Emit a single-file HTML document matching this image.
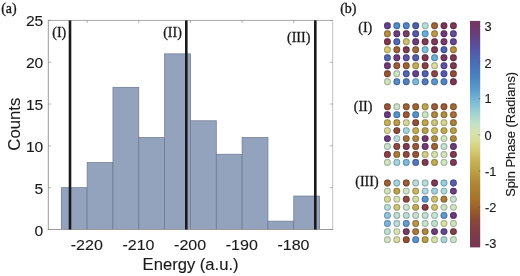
<!DOCTYPE html>
<html lang="en"><head><meta charset="utf-8"><title>Figure</title>
<style>html,body{margin:0;padding:0;background:#fff}svg{display:block;filter:blur(0.3px)}</style></head>
<body>
<svg width="520" height="276" viewBox="0 0 520 276">
<defs><linearGradient id="cb" x1="0" y1="0" x2="0" y2="1">
<stop offset="0.00%" stop-color="#763660"/>
<stop offset="3.13%" stop-color="#70386c"/>
<stop offset="6.23%" stop-color="#683e7e"/>
<stop offset="9.32%" stop-color="#5e4a94"/>
<stop offset="12.85%" stop-color="#5358a6"/>
<stop offset="18.59%" stop-color="#4a6cb6"/>
<stop offset="24.33%" stop-color="#4a82c0"/>
<stop offset="30.51%" stop-color="#5c9ccc"/>
<stop offset="34.48%" stop-color="#74b4d4"/>
<stop offset="40.22%" stop-color="#9cd0d4"/>
<stop offset="45.08%" stop-color="#c0e0c8"/>
<stop offset="49.49%" stop-color="#d6e2ae"/>
<stop offset="53.02%" stop-color="#d8dc98"/>
<stop offset="56.11%" stop-color="#d6d07c"/>
<stop offset="61.41%" stop-color="#c8b458"/>
<stop offset="66.27%" stop-color="#bca044"/>
<stop offset="72.45%" stop-color="#ac8436"/>
<stop offset="78.19%" stop-color="#a8742a"/>
<stop offset="82.16%" stop-color="#9e622a"/>
<stop offset="87.90%" stop-color="#8a4838"/>
<stop offset="93.64%" stop-color="#7e3c48"/>
<stop offset="100.00%" stop-color="#763858"/>
</linearGradient>
<radialGradient id="sh" cx="0.5" cy="0.5" r="0.5"><stop offset="0" stop-color="#fff" stop-opacity="0.10"/><stop offset="0.45" stop-color="#fff" stop-opacity="0"/><stop offset="0.75" stop-color="#101030" stop-opacity="0.16"/><stop offset="1" stop-color="#101030" stop-opacity="0.30"/></radialGradient>
</defs>
<rect width="520" height="276" fill="#fff"/>
<g fill="#93a3be" stroke="#68778f" stroke-width="0.7">
<rect x="61.30" y="187.68" width="25.83" height="41.82"/>
<rect x="87.13" y="162.59" width="25.83" height="66.91"/>
<rect x="112.96" y="87.31" width="25.83" height="142.19"/>
<rect x="138.79" y="137.50" width="25.83" height="92.00"/>
<rect x="164.62" y="53.86" width="25.83" height="175.64"/>
<rect x="190.45" y="120.77" width="25.83" height="108.73"/>
<rect x="216.28" y="154.22" width="25.83" height="75.28"/>
<rect x="242.11" y="137.50" width="25.83" height="92.00"/>
<rect x="267.94" y="221.14" width="25.83" height="8.36"/>
<rect x="293.77" y="196.04" width="25.83" height="33.46"/>
</g>
<line x1="48.3" y1="20.4" x2="332.7" y2="20.4" stroke="#a8a8a8" stroke-width="1"/>
<line x1="332.7" y1="20.4" x2="332.7" y2="229.5" stroke="#c0c0c0" stroke-width="1"/>
<line x1="48.3" y1="19.9" x2="48.3" y2="230.0" stroke="#999" stroke-width="1"/>
<line x1="47.8" y1="229.5" x2="333.2" y2="229.5" stroke="#999" stroke-width="1"/>
<g stroke="#8a8a8a" stroke-width="0.7">
<line x1="87.13" y1="229.5" x2="87.13" y2="227.0"/>
<line x1="87.13" y1="20.4" x2="87.13" y2="22.9"/>
<line x1="138.79" y1="229.5" x2="138.79" y2="227.0"/>
<line x1="138.79" y1="20.4" x2="138.79" y2="22.9"/>
<line x1="190.45" y1="229.5" x2="190.45" y2="227.0"/>
<line x1="190.45" y1="20.4" x2="190.45" y2="22.9"/>
<line x1="242.11" y1="229.5" x2="242.11" y2="227.0"/>
<line x1="242.11" y1="20.4" x2="242.11" y2="22.9"/>
<line x1="293.77" y1="229.5" x2="293.77" y2="227.0"/>
<line x1="293.77" y1="20.4" x2="293.77" y2="22.9"/>
<line x1="48.3" y1="229.50" x2="50.8" y2="229.50"/>
<line x1="332.7" y1="229.50" x2="330.2" y2="229.50"/>
<line x1="48.3" y1="187.68" x2="50.8" y2="187.68"/>
<line x1="332.7" y1="187.68" x2="330.2" y2="187.68"/>
<line x1="48.3" y1="145.86" x2="50.8" y2="145.86"/>
<line x1="332.7" y1="145.86" x2="330.2" y2="145.86"/>
<line x1="48.3" y1="104.04" x2="50.8" y2="104.04"/>
<line x1="332.7" y1="104.04" x2="330.2" y2="104.04"/>
<line x1="48.3" y1="62.22" x2="50.8" y2="62.22"/>
<line x1="332.7" y1="62.22" x2="330.2" y2="62.22"/>
<line x1="48.3" y1="20.40" x2="50.8" y2="20.40"/>
<line x1="332.7" y1="20.40" x2="330.2" y2="20.40"/>
</g>
<line x1="70.0" y1="20.4" x2="70.0" y2="229.5" stroke="#1a1a1a" stroke-width="2.6"/>
<line x1="186.3" y1="20.4" x2="186.3" y2="229.5" stroke="#1a1a1a" stroke-width="2.6"/>
<line x1="315.3" y1="20.4" x2="315.3" y2="229.5" stroke="#1a1a1a" stroke-width="2.6"/>
<g font-family="'Liberation Sans', Arial, Helvetica, sans-serif" fill="#1a1a1a" stroke="#1a1a1a" stroke-width="0.12">
<g font-size="15.5" text-anchor="middle">
<text transform="translate(86.83,249.6) scale(1.035,1)">-220</text>
<text transform="translate(138.49,249.6) scale(1.035,1)">-210</text>
<text transform="translate(190.15,249.6) scale(1.035,1)">-200</text>
<text transform="translate(241.81,249.6) scale(1.035,1)">-190</text>
<text transform="translate(293.47,249.6) scale(1.035,1)">-180</text>
</g>
<g font-size="15.5" text-anchor="end">
<text transform="translate(43.3,235.55) scale(1.01,1)">0</text>
<text transform="translate(43.3,193.73) scale(1.01,1)">5</text>
<text transform="translate(43.3,151.91) scale(1.01,1)">10</text>
<text transform="translate(43.3,110.09) scale(1.01,1)">15</text>
<text transform="translate(43.3,68.27) scale(1.01,1)">20</text>
<text transform="translate(43.3,26.45) scale(1.01,1)">25</text>
</g>
<text transform="translate(190.6,270.1) scale(1.045,1)" font-size="15.9" text-anchor="middle">Energy (a.u.)</text>
<text transform="translate(20.4,124.2) rotate(-90) scale(1.03,1)" font-size="16.2" text-anchor="middle">Counts</text>
<g font-size="12.2">
<text transform="translate(484.5,30.79) scale(1.05,1)">3</text>
<text transform="translate(484.5,67.86) scale(1.05,1)">2</text>
<text transform="translate(484.5,103.13) scale(1.05,1)">1</text>
<text transform="translate(484.5,139.80) scale(1.05,1)">0</text>
<text transform="translate(485.0,176.27) scale(1.05,1)">-1</text>
<text transform="translate(485.0,211.64) scale(1.05,1)">-2</text>
<text transform="translate(485.0,247.96) scale(1.05,1)">-3</text>
</g>
<text transform="translate(515.0,134.35) rotate(-90) scale(1.013,1)" font-size="12.7" text-anchor="middle">Spin Phase (Radians)</text>
</g>
<g font-family="'Liberation Serif', 'Times New Roman', Times, serif" font-size="14" fill="#1a1a1a" stroke="#1a1a1a" stroke-width="0.3">
<text x="1.2" y="13.2">(a)</text>
<text x="340.2" y="12.5">(b)</text>
<text x="52.3" y="37.4">(I)</text>
<text x="163.2" y="36.8">(II)</text>
<text x="287" y="41.7">(III)</text>
<text x="358.3" y="31.7">(I)</text>
<text x="353.8" y="110.6">(II)</text>
<text x="355.3" y="186.3">(III)</text>
</g>
<rect x="470" y="20.9" width="10.2" height="226.5" fill="url(#cb)"/>
<g stroke="#555" stroke-width="0.5">
<line x1="478.4" y1="26.39" x2="480.2" y2="26.39"/>
<line x1="478.4" y1="62.56" x2="480.2" y2="62.56"/>
<line x1="478.4" y1="98.73" x2="480.2" y2="98.73"/>
<line x1="478.4" y1="134.90" x2="480.2" y2="134.90"/>
<line x1="478.4" y1="171.07" x2="480.2" y2="171.07"/>
<line x1="478.4" y1="207.24" x2="480.2" y2="207.24"/>
<line x1="478.4" y1="243.41" x2="480.2" y2="243.41"/>
</g>
<circle cx="387.40" cy="25.75" r="3.4" fill="#5f3a85"/>
<circle cx="387.40" cy="25.75" r="3.4" fill="url(#sh)"/>
<circle cx="396.83" cy="25.75" r="3.4" fill="#4f86c6"/>
<circle cx="396.83" cy="25.75" r="3.4" fill="url(#sh)"/>
<circle cx="406.26" cy="25.75" r="3.4" fill="#4a84c4"/>
<circle cx="406.26" cy="25.75" r="3.4" fill="url(#sh)"/>
<circle cx="415.69" cy="25.75" r="3.4" fill="#4a5aa8"/>
<circle cx="415.69" cy="25.75" r="3.4" fill="url(#sh)"/>
<circle cx="425.12" cy="25.75" r="3.4" fill="#b8e0d4"/>
<circle cx="425.12" cy="25.75" r="3.4" fill="url(#sh)"/>
<circle cx="434.55" cy="25.75" r="3.4" fill="#9a6030"/>
<circle cx="434.55" cy="25.75" r="3.4" fill="url(#sh)"/>
<circle cx="443.98" cy="25.75" r="3.4" fill="#78304c"/>
<circle cx="443.98" cy="25.75" r="3.4" fill="url(#sh)"/>
<circle cx="453.41" cy="25.75" r="3.4" fill="#7a3050"/>
<circle cx="453.41" cy="25.75" r="3.4" fill="url(#sh)"/>
<circle cx="387.40" cy="33.75" r="3.4" fill="#b08a38"/>
<circle cx="387.40" cy="33.75" r="3.4" fill="url(#sh)"/>
<circle cx="396.83" cy="33.75" r="3.4" fill="#663878"/>
<circle cx="396.83" cy="33.75" r="3.4" fill="url(#sh)"/>
<circle cx="406.26" cy="33.75" r="3.4" fill="#743860"/>
<circle cx="406.26" cy="33.75" r="3.4" fill="url(#sh)"/>
<circle cx="415.69" cy="33.75" r="3.4" fill="#4e54a4"/>
<circle cx="415.69" cy="33.75" r="3.4" fill="url(#sh)"/>
<circle cx="425.12" cy="33.75" r="3.4" fill="#64acd8"/>
<circle cx="425.12" cy="33.75" r="3.4" fill="url(#sh)"/>
<circle cx="434.55" cy="33.75" r="3.4" fill="#b89840"/>
<circle cx="434.55" cy="33.75" r="3.4" fill="url(#sh)"/>
<circle cx="443.98" cy="33.75" r="3.4" fill="#6c3470"/>
<circle cx="443.98" cy="33.75" r="3.4" fill="url(#sh)"/>
<circle cx="453.41" cy="33.75" r="3.4" fill="#5c4494"/>
<circle cx="453.41" cy="33.75" r="3.4" fill="url(#sh)"/>
<circle cx="387.40" cy="41.75" r="3.4" fill="#7c3048"/>
<circle cx="387.40" cy="41.75" r="3.4" fill="url(#sh)"/>
<circle cx="396.83" cy="41.75" r="3.4" fill="#4a64b0"/>
<circle cx="396.83" cy="41.75" r="3.4" fill="url(#sh)"/>
<circle cx="406.26" cy="41.75" r="3.4" fill="#ccc064"/>
<circle cx="406.26" cy="41.75" r="3.4" fill="url(#sh)"/>
<circle cx="415.69" cy="41.75" r="3.4" fill="#6a3470"/>
<circle cx="415.69" cy="41.75" r="3.4" fill="url(#sh)"/>
<circle cx="425.12" cy="41.75" r="3.4" fill="#7c3448"/>
<circle cx="425.12" cy="41.75" r="3.4" fill="url(#sh)"/>
<circle cx="434.55" cy="41.75" r="3.4" fill="#783450"/>
<circle cx="434.55" cy="41.75" r="3.4" fill="url(#sh)"/>
<circle cx="443.98" cy="41.75" r="3.4" fill="#743460"/>
<circle cx="443.98" cy="41.75" r="3.4" fill="url(#sh)"/>
<circle cx="453.41" cy="41.75" r="3.4" fill="#5e4090"/>
<circle cx="453.41" cy="41.75" r="3.4" fill="url(#sh)"/>
<circle cx="387.40" cy="49.75" r="3.4" fill="#d4c868"/>
<circle cx="387.40" cy="49.75" r="3.4" fill="url(#sh)"/>
<circle cx="396.83" cy="49.75" r="3.4" fill="#9a5c30"/>
<circle cx="396.83" cy="49.75" r="3.4" fill="url(#sh)"/>
<circle cx="406.26" cy="49.75" r="3.4" fill="#7c3448"/>
<circle cx="406.26" cy="49.75" r="3.4" fill="url(#sh)"/>
<circle cx="415.69" cy="49.75" r="3.4" fill="#9c6430"/>
<circle cx="415.69" cy="49.75" r="3.4" fill="url(#sh)"/>
<circle cx="425.12" cy="49.75" r="3.4" fill="#78c0dc"/>
<circle cx="425.12" cy="49.75" r="3.4" fill="url(#sh)"/>
<circle cx="434.55" cy="49.75" r="3.4" fill="#78304c"/>
<circle cx="434.55" cy="49.75" r="3.4" fill="url(#sh)"/>
<circle cx="443.98" cy="49.75" r="3.4" fill="#4c60ac"/>
<circle cx="443.98" cy="49.75" r="3.4" fill="url(#sh)"/>
<circle cx="453.41" cy="49.75" r="3.4" fill="#b48a34"/>
<circle cx="453.41" cy="49.75" r="3.4" fill="url(#sh)"/>
<circle cx="387.40" cy="57.75" r="3.4" fill="#4c64b0"/>
<circle cx="387.40" cy="57.75" r="3.4" fill="url(#sh)"/>
<circle cx="396.83" cy="57.75" r="3.4" fill="#683674"/>
<circle cx="396.83" cy="57.75" r="3.4" fill="url(#sh)"/>
<circle cx="406.26" cy="57.75" r="3.4" fill="#5a4ca4"/>
<circle cx="406.26" cy="57.75" r="3.4" fill="url(#sh)"/>
<circle cx="415.69" cy="57.75" r="3.4" fill="#4e58a8"/>
<circle cx="415.69" cy="57.75" r="3.4" fill="url(#sh)"/>
<circle cx="425.12" cy="57.75" r="3.4" fill="#7c3048"/>
<circle cx="425.12" cy="57.75" r="3.4" fill="url(#sh)"/>
<circle cx="434.55" cy="57.75" r="3.4" fill="#64acd4"/>
<circle cx="434.55" cy="57.75" r="3.4" fill="url(#sh)"/>
<circle cx="443.98" cy="57.75" r="3.4" fill="#70345c"/>
<circle cx="443.98" cy="57.75" r="3.4" fill="url(#sh)"/>
<circle cx="453.41" cy="57.75" r="3.4" fill="#7a3048"/>
<circle cx="453.41" cy="57.75" r="3.4" fill="url(#sh)"/>
<circle cx="387.40" cy="65.75" r="3.4" fill="#6c3470"/>
<circle cx="387.40" cy="65.75" r="3.4" fill="url(#sh)"/>
<circle cx="396.83" cy="65.75" r="3.4" fill="#985830"/>
<circle cx="396.83" cy="65.75" r="3.4" fill="url(#sh)"/>
<circle cx="406.26" cy="65.75" r="3.4" fill="#a05c28"/>
<circle cx="406.26" cy="65.75" r="3.4" fill="url(#sh)"/>
<circle cx="415.69" cy="65.75" r="3.4" fill="#c4ac48"/>
<circle cx="415.69" cy="65.75" r="3.4" fill="url(#sh)"/>
<circle cx="425.12" cy="65.75" r="3.4" fill="#843c3c"/>
<circle cx="425.12" cy="65.75" r="3.4" fill="url(#sh)"/>
<circle cx="434.55" cy="65.75" r="3.4" fill="#d8dc9c"/>
<circle cx="434.55" cy="65.75" r="3.4" fill="url(#sh)"/>
<circle cx="443.98" cy="65.75" r="3.4" fill="#5a4ca0"/>
<circle cx="443.98" cy="65.75" r="3.4" fill="url(#sh)"/>
<circle cx="453.41" cy="65.75" r="3.4" fill="#7c3444"/>
<circle cx="453.41" cy="65.75" r="3.4" fill="url(#sh)"/>
<circle cx="387.40" cy="73.75" r="3.4" fill="#94502c"/>
<circle cx="387.40" cy="73.75" r="3.4" fill="url(#sh)"/>
<circle cx="396.83" cy="73.75" r="3.4" fill="#cce4c0"/>
<circle cx="396.83" cy="73.75" r="3.4" fill="url(#sh)"/>
<circle cx="406.26" cy="73.75" r="3.4" fill="#4c60b0"/>
<circle cx="406.26" cy="73.75" r="3.4" fill="url(#sh)"/>
<circle cx="415.69" cy="73.75" r="3.4" fill="#603c88"/>
<circle cx="415.69" cy="73.75" r="3.4" fill="url(#sh)"/>
<circle cx="425.12" cy="73.75" r="3.4" fill="#4c5cac"/>
<circle cx="425.12" cy="73.75" r="3.4" fill="url(#sh)"/>
<circle cx="434.55" cy="73.75" r="3.4" fill="#88403c"/>
<circle cx="434.55" cy="73.75" r="3.4" fill="url(#sh)"/>
<circle cx="443.98" cy="73.75" r="3.4" fill="#5054a8"/>
<circle cx="443.98" cy="73.75" r="3.4" fill="url(#sh)"/>
<circle cx="453.41" cy="73.75" r="3.4" fill="#8c4830"/>
<circle cx="453.41" cy="73.75" r="3.4" fill="url(#sh)"/>
<circle cx="387.40" cy="81.75" r="3.4" fill="#d0e4b8"/>
<circle cx="387.40" cy="81.75" r="3.4" fill="url(#sh)"/>
<circle cx="396.83" cy="81.75" r="3.4" fill="#5088c8"/>
<circle cx="396.83" cy="81.75" r="3.4" fill="url(#sh)"/>
<circle cx="406.26" cy="81.75" r="3.4" fill="#4c7cc0"/>
<circle cx="406.26" cy="81.75" r="3.4" fill="url(#sh)"/>
<circle cx="415.69" cy="81.75" r="3.4" fill="#74b8dc"/>
<circle cx="415.69" cy="81.75" r="3.4" fill="url(#sh)"/>
<circle cx="425.12" cy="81.75" r="3.4" fill="#4c78bc"/>
<circle cx="425.12" cy="81.75" r="3.4" fill="url(#sh)"/>
<circle cx="434.55" cy="81.75" r="3.4" fill="#5494cc"/>
<circle cx="434.55" cy="81.75" r="3.4" fill="url(#sh)"/>
<circle cx="443.98" cy="81.75" r="3.4" fill="#4c80c4"/>
<circle cx="443.98" cy="81.75" r="3.4" fill="url(#sh)"/>
<circle cx="453.41" cy="81.75" r="3.4" fill="#78304c"/>
<circle cx="453.41" cy="81.75" r="3.4" fill="url(#sh)"/>
<circle cx="387.40" cy="106.75" r="3.4" fill="#94502c"/>
<circle cx="387.40" cy="106.75" r="3.4" fill="url(#sh)"/>
<circle cx="396.83" cy="106.75" r="3.4" fill="#cce4c4"/>
<circle cx="396.83" cy="106.75" r="3.4" fill="url(#sh)"/>
<circle cx="406.26" cy="106.75" r="3.4" fill="#9c5c2c"/>
<circle cx="406.26" cy="106.75" r="3.4" fill="url(#sh)"/>
<circle cx="415.69" cy="106.75" r="3.4" fill="#9c602c"/>
<circle cx="415.69" cy="106.75" r="3.4" fill="url(#sh)"/>
<circle cx="425.12" cy="106.75" r="3.4" fill="#bca448"/>
<circle cx="425.12" cy="106.75" r="3.4" fill="url(#sh)"/>
<circle cx="434.55" cy="106.75" r="3.4" fill="#985830"/>
<circle cx="434.55" cy="106.75" r="3.4" fill="url(#sh)"/>
<circle cx="443.98" cy="106.75" r="3.4" fill="#985830"/>
<circle cx="443.98" cy="106.75" r="3.4" fill="url(#sh)"/>
<circle cx="453.41" cy="106.75" r="3.4" fill="#a0642c"/>
<circle cx="453.41" cy="106.75" r="3.4" fill="url(#sh)"/>
<circle cx="387.40" cy="114.70" r="3.4" fill="#643478"/>
<circle cx="387.40" cy="114.70" r="3.4" fill="url(#sh)"/>
<circle cx="396.83" cy="114.70" r="3.4" fill="#5090c8"/>
<circle cx="396.83" cy="114.70" r="3.4" fill="url(#sh)"/>
<circle cx="406.26" cy="114.70" r="3.4" fill="#94542c"/>
<circle cx="406.26" cy="114.70" r="3.4" fill="url(#sh)"/>
<circle cx="415.69" cy="114.70" r="3.4" fill="#5090cc"/>
<circle cx="415.69" cy="114.70" r="3.4" fill="url(#sh)"/>
<circle cx="425.12" cy="114.70" r="3.4" fill="#cce4c0"/>
<circle cx="425.12" cy="114.70" r="3.4" fill="url(#sh)"/>
<circle cx="434.55" cy="114.70" r="3.4" fill="#ac8438"/>
<circle cx="434.55" cy="114.70" r="3.4" fill="url(#sh)"/>
<circle cx="443.98" cy="114.70" r="3.4" fill="#b08c38"/>
<circle cx="443.98" cy="114.70" r="3.4" fill="url(#sh)"/>
<circle cx="453.41" cy="114.70" r="3.4" fill="#a06c30"/>
<circle cx="453.41" cy="114.70" r="3.4" fill="url(#sh)"/>
<circle cx="387.40" cy="122.65" r="3.4" fill="#c4b050"/>
<circle cx="387.40" cy="122.65" r="3.4" fill="url(#sh)"/>
<circle cx="396.83" cy="122.65" r="3.4" fill="#b89840"/>
<circle cx="396.83" cy="122.65" r="3.4" fill="url(#sh)"/>
<circle cx="406.26" cy="122.65" r="3.4" fill="#d4d890"/>
<circle cx="406.26" cy="122.65" r="3.4" fill="url(#sh)"/>
<circle cx="415.69" cy="122.65" r="3.4" fill="#904830"/>
<circle cx="415.69" cy="122.65" r="3.4" fill="url(#sh)"/>
<circle cx="425.12" cy="122.65" r="3.4" fill="#bca448"/>
<circle cx="425.12" cy="122.65" r="3.4" fill="url(#sh)"/>
<circle cx="434.55" cy="122.65" r="3.4" fill="#ccc470"/>
<circle cx="434.55" cy="122.65" r="3.4" fill="url(#sh)"/>
<circle cx="443.98" cy="122.65" r="3.4" fill="#d4d488"/>
<circle cx="443.98" cy="122.65" r="3.4" fill="url(#sh)"/>
<circle cx="453.41" cy="122.65" r="3.4" fill="#a87c34"/>
<circle cx="453.41" cy="122.65" r="3.4" fill="url(#sh)"/>
<circle cx="387.40" cy="130.60" r="3.4" fill="#d8d890"/>
<circle cx="387.40" cy="130.60" r="3.4" fill="url(#sh)"/>
<circle cx="396.83" cy="130.60" r="3.4" fill="#8c4434"/>
<circle cx="396.83" cy="130.60" r="3.4" fill="url(#sh)"/>
<circle cx="406.26" cy="130.60" r="3.4" fill="#9cd4dc"/>
<circle cx="406.26" cy="130.60" r="3.4" fill="url(#sh)"/>
<circle cx="415.69" cy="130.60" r="3.4" fill="#c0a848"/>
<circle cx="415.69" cy="130.60" r="3.4" fill="url(#sh)"/>
<circle cx="425.12" cy="130.60" r="3.4" fill="#b89c40"/>
<circle cx="425.12" cy="130.60" r="3.4" fill="url(#sh)"/>
<circle cx="434.55" cy="130.60" r="3.4" fill="#c8b858"/>
<circle cx="434.55" cy="130.60" r="3.4" fill="url(#sh)"/>
<circle cx="443.98" cy="130.60" r="3.4" fill="#c0a848"/>
<circle cx="443.98" cy="130.60" r="3.4" fill="url(#sh)"/>
<circle cx="453.41" cy="130.60" r="3.4" fill="#b89c40"/>
<circle cx="453.41" cy="130.60" r="3.4" fill="url(#sh)"/>
<circle cx="387.40" cy="138.55" r="3.4" fill="#643474"/>
<circle cx="387.40" cy="138.55" r="3.4" fill="url(#sh)"/>
<circle cx="396.83" cy="138.55" r="3.4" fill="#b8dcd8"/>
<circle cx="396.83" cy="138.55" r="3.4" fill="url(#sh)"/>
<circle cx="406.26" cy="138.55" r="3.4" fill="#a06c30"/>
<circle cx="406.26" cy="138.55" r="3.4" fill="url(#sh)"/>
<circle cx="415.69" cy="138.55" r="3.4" fill="#ac8438"/>
<circle cx="415.69" cy="138.55" r="3.4" fill="url(#sh)"/>
<circle cx="425.12" cy="138.55" r="3.4" fill="#703460"/>
<circle cx="425.12" cy="138.55" r="3.4" fill="url(#sh)"/>
<circle cx="434.55" cy="138.55" r="3.4" fill="#b08c3c"/>
<circle cx="434.55" cy="138.55" r="3.4" fill="url(#sh)"/>
<circle cx="443.98" cy="138.55" r="3.4" fill="#d0e4bc"/>
<circle cx="443.98" cy="138.55" r="3.4" fill="url(#sh)"/>
<circle cx="453.41" cy="138.55" r="3.4" fill="#ac8438"/>
<circle cx="453.41" cy="138.55" r="3.4" fill="url(#sh)"/>
<circle cx="387.40" cy="146.50" r="3.4" fill="#c8e4c8"/>
<circle cx="387.40" cy="146.50" r="3.4" fill="url(#sh)"/>
<circle cx="396.83" cy="146.50" r="3.4" fill="#8c4434"/>
<circle cx="396.83" cy="146.50" r="3.4" fill="url(#sh)"/>
<circle cx="406.26" cy="146.50" r="3.4" fill="#783450"/>
<circle cx="406.26" cy="146.50" r="3.4" fill="url(#sh)"/>
<circle cx="415.69" cy="146.50" r="3.4" fill="#985430"/>
<circle cx="415.69" cy="146.50" r="3.4" fill="url(#sh)"/>
<circle cx="425.12" cy="146.50" r="3.4" fill="#6c3470"/>
<circle cx="425.12" cy="146.50" r="3.4" fill="url(#sh)"/>
<circle cx="434.55" cy="146.50" r="3.4" fill="#9c5c2c"/>
<circle cx="434.55" cy="146.50" r="3.4" fill="url(#sh)"/>
<circle cx="443.98" cy="146.50" r="3.4" fill="#c4e0d0"/>
<circle cx="443.98" cy="146.50" r="3.4" fill="url(#sh)"/>
<circle cx="453.41" cy="146.50" r="3.4" fill="#683670"/>
<circle cx="453.41" cy="146.50" r="3.4" fill="url(#sh)"/>
<circle cx="387.40" cy="154.45" r="3.4" fill="#883c3c"/>
<circle cx="387.40" cy="154.45" r="3.4" fill="url(#sh)"/>
<circle cx="396.83" cy="154.45" r="3.4" fill="#a87830"/>
<circle cx="396.83" cy="154.45" r="3.4" fill="url(#sh)"/>
<circle cx="406.26" cy="154.45" r="3.4" fill="#8c4434"/>
<circle cx="406.26" cy="154.45" r="3.4" fill="url(#sh)"/>
<circle cx="415.69" cy="154.45" r="3.4" fill="#94502c"/>
<circle cx="415.69" cy="154.45" r="3.4" fill="url(#sh)"/>
<circle cx="425.12" cy="154.45" r="3.4" fill="#d4cc80"/>
<circle cx="425.12" cy="154.45" r="3.4" fill="url(#sh)"/>
<circle cx="434.55" cy="154.45" r="3.4" fill="#d8e0a8"/>
<circle cx="434.55" cy="154.45" r="3.4" fill="url(#sh)"/>
<circle cx="443.98" cy="154.45" r="3.4" fill="#d4e4b8"/>
<circle cx="443.98" cy="154.45" r="3.4" fill="url(#sh)"/>
<circle cx="453.41" cy="154.45" r="3.4" fill="#7c3448"/>
<circle cx="453.41" cy="154.45" r="3.4" fill="url(#sh)"/>
<circle cx="387.40" cy="162.40" r="3.4" fill="#d0e4bc"/>
<circle cx="387.40" cy="162.40" r="3.4" fill="url(#sh)"/>
<circle cx="396.83" cy="162.40" r="3.4" fill="#a0d4dc"/>
<circle cx="396.83" cy="162.40" r="3.4" fill="url(#sh)"/>
<circle cx="406.26" cy="162.40" r="3.4" fill="#78b8dc"/>
<circle cx="406.26" cy="162.40" r="3.4" fill="url(#sh)"/>
<circle cx="415.69" cy="162.40" r="3.4" fill="#4c74bc"/>
<circle cx="415.69" cy="162.40" r="3.4" fill="url(#sh)"/>
<circle cx="425.12" cy="162.40" r="3.4" fill="#7c3448"/>
<circle cx="425.12" cy="162.40" r="3.4" fill="url(#sh)"/>
<circle cx="434.55" cy="162.40" r="3.4" fill="#c0a848"/>
<circle cx="434.55" cy="162.40" r="3.4" fill="url(#sh)"/>
<circle cx="443.98" cy="162.40" r="3.4" fill="#d0e4c0"/>
<circle cx="443.98" cy="162.40" r="3.4" fill="url(#sh)"/>
<circle cx="453.41" cy="162.40" r="3.4" fill="#783450"/>
<circle cx="453.41" cy="162.40" r="3.4" fill="url(#sh)"/>
<circle cx="387.40" cy="183.00" r="3.4" fill="#9c5c2c"/>
<circle cx="387.40" cy="183.00" r="3.4" fill="url(#sh)"/>
<circle cx="396.83" cy="183.00" r="3.4" fill="#a4d4dc"/>
<circle cx="396.83" cy="183.00" r="3.4" fill="url(#sh)"/>
<circle cx="406.26" cy="183.00" r="3.4" fill="#985830"/>
<circle cx="406.26" cy="183.00" r="3.4" fill="url(#sh)"/>
<circle cx="415.69" cy="183.00" r="3.4" fill="#b8dcd4"/>
<circle cx="415.69" cy="183.00" r="3.4" fill="url(#sh)"/>
<circle cx="425.12" cy="183.00" r="3.4" fill="#b4dcd8"/>
<circle cx="425.12" cy="183.00" r="3.4" fill="url(#sh)"/>
<circle cx="434.55" cy="183.00" r="3.4" fill="#783450"/>
<circle cx="434.55" cy="183.00" r="3.4" fill="url(#sh)"/>
<circle cx="443.98" cy="183.00" r="3.4" fill="#94ccdc"/>
<circle cx="443.98" cy="183.00" r="3.4" fill="url(#sh)"/>
<circle cx="453.41" cy="183.00" r="3.4" fill="#5458a8"/>
<circle cx="453.41" cy="183.00" r="3.4" fill="url(#sh)"/>
<circle cx="387.40" cy="191.10" r="3.4" fill="#d0e4b8"/>
<circle cx="387.40" cy="191.10" r="3.4" fill="url(#sh)"/>
<circle cx="396.83" cy="191.10" r="3.4" fill="#bca044"/>
<circle cx="396.83" cy="191.10" r="3.4" fill="url(#sh)"/>
<circle cx="406.26" cy="191.10" r="3.4" fill="#cce4c4"/>
<circle cx="406.26" cy="191.10" r="3.4" fill="url(#sh)"/>
<circle cx="415.69" cy="191.10" r="3.4" fill="#c8b458"/>
<circle cx="415.69" cy="191.10" r="3.4" fill="url(#sh)"/>
<circle cx="425.12" cy="191.10" r="3.4" fill="#acd8d8"/>
<circle cx="425.12" cy="191.10" r="3.4" fill="url(#sh)"/>
<circle cx="434.55" cy="191.10" r="3.4" fill="#9cd0dc"/>
<circle cx="434.55" cy="191.10" r="3.4" fill="url(#sh)"/>
<circle cx="443.98" cy="191.10" r="3.4" fill="#acd8d8"/>
<circle cx="443.98" cy="191.10" r="3.4" fill="url(#sh)"/>
<circle cx="453.41" cy="191.10" r="3.4" fill="#643878"/>
<circle cx="453.41" cy="191.10" r="3.4" fill="url(#sh)"/>
<circle cx="387.40" cy="199.20" r="3.4" fill="#d8d890"/>
<circle cx="387.40" cy="199.20" r="3.4" fill="url(#sh)"/>
<circle cx="396.83" cy="199.20" r="3.4" fill="#d4e4b4"/>
<circle cx="396.83" cy="199.20" r="3.4" fill="url(#sh)"/>
<circle cx="406.26" cy="199.20" r="3.4" fill="#8c4434"/>
<circle cx="406.26" cy="199.20" r="3.4" fill="url(#sh)"/>
<circle cx="415.69" cy="199.20" r="3.4" fill="#d4dca0"/>
<circle cx="415.69" cy="199.20" r="3.4" fill="url(#sh)"/>
<circle cx="425.12" cy="199.20" r="3.4" fill="#5890cc"/>
<circle cx="425.12" cy="199.20" r="3.4" fill="url(#sh)"/>
<circle cx="434.55" cy="199.20" r="3.4" fill="#ccc068"/>
<circle cx="434.55" cy="199.20" r="3.4" fill="url(#sh)"/>
<circle cx="443.98" cy="199.20" r="3.4" fill="#a87830"/>
<circle cx="443.98" cy="199.20" r="3.4" fill="url(#sh)"/>
<circle cx="453.41" cy="199.20" r="3.4" fill="#c8e4c8"/>
<circle cx="453.41" cy="199.20" r="3.4" fill="url(#sh)"/>
<circle cx="387.40" cy="207.30" r="3.4" fill="#b4dcd4"/>
<circle cx="387.40" cy="207.30" r="3.4" fill="url(#sh)"/>
<circle cx="396.83" cy="207.30" r="3.4" fill="#ccc470"/>
<circle cx="396.83" cy="207.30" r="3.4" fill="url(#sh)"/>
<circle cx="406.26" cy="207.30" r="3.4" fill="#c8e4c4"/>
<circle cx="406.26" cy="207.30" r="3.4" fill="url(#sh)"/>
<circle cx="415.69" cy="207.30" r="3.4" fill="#c0a84c"/>
<circle cx="415.69" cy="207.30" r="3.4" fill="url(#sh)"/>
<circle cx="425.12" cy="207.30" r="3.4" fill="#84383c"/>
<circle cx="425.12" cy="207.30" r="3.4" fill="url(#sh)"/>
<circle cx="434.55" cy="207.30" r="3.4" fill="#ccc064"/>
<circle cx="434.55" cy="207.30" r="3.4" fill="url(#sh)"/>
<circle cx="443.98" cy="207.30" r="3.4" fill="#cce4c0"/>
<circle cx="443.98" cy="207.30" r="3.4" fill="url(#sh)"/>
<circle cx="453.41" cy="207.30" r="3.4" fill="#d0e4bc"/>
<circle cx="453.41" cy="207.30" r="3.4" fill="url(#sh)"/>
<circle cx="387.40" cy="215.40" r="3.4" fill="#8cc4dc"/>
<circle cx="387.40" cy="215.40" r="3.4" fill="url(#sh)"/>
<circle cx="396.83" cy="215.40" r="3.4" fill="#bce0d0"/>
<circle cx="396.83" cy="215.40" r="3.4" fill="url(#sh)"/>
<circle cx="406.26" cy="215.40" r="3.4" fill="#b8dcd4"/>
<circle cx="406.26" cy="215.40" r="3.4" fill="url(#sh)"/>
<circle cx="415.69" cy="215.40" r="3.4" fill="#c4e0cc"/>
<circle cx="415.69" cy="215.40" r="3.4" fill="url(#sh)"/>
<circle cx="425.12" cy="215.40" r="3.4" fill="#c0e0d0"/>
<circle cx="425.12" cy="215.40" r="3.4" fill="url(#sh)"/>
<circle cx="434.55" cy="215.40" r="3.4" fill="#c4e4cc"/>
<circle cx="434.55" cy="215.40" r="3.4" fill="url(#sh)"/>
<circle cx="443.98" cy="215.40" r="3.4" fill="#5c94cc"/>
<circle cx="443.98" cy="215.40" r="3.4" fill="url(#sh)"/>
<circle cx="453.41" cy="215.40" r="3.4" fill="#643474"/>
<circle cx="453.41" cy="215.40" r="3.4" fill="url(#sh)"/>
<circle cx="387.40" cy="223.50" r="3.4" fill="#78b4d8"/>
<circle cx="387.40" cy="223.50" r="3.4" fill="url(#sh)"/>
<circle cx="396.83" cy="223.50" r="3.4" fill="#b8dcd4"/>
<circle cx="396.83" cy="223.50" r="3.4" fill="url(#sh)"/>
<circle cx="406.26" cy="223.50" r="3.4" fill="#6098cc"/>
<circle cx="406.26" cy="223.50" r="3.4" fill="url(#sh)"/>
<circle cx="415.69" cy="223.50" r="3.4" fill="#b49440"/>
<circle cx="415.69" cy="223.50" r="3.4" fill="url(#sh)"/>
<circle cx="425.12" cy="223.50" r="3.4" fill="#c8e4c8"/>
<circle cx="425.12" cy="223.50" r="3.4" fill="url(#sh)"/>
<circle cx="434.55" cy="223.50" r="3.4" fill="#c0e0d0"/>
<circle cx="434.55" cy="223.50" r="3.4" fill="url(#sh)"/>
<circle cx="443.98" cy="223.50" r="3.4" fill="#d8e0a0"/>
<circle cx="443.98" cy="223.50" r="3.4" fill="url(#sh)"/>
<circle cx="453.41" cy="223.50" r="3.4" fill="#d4e4b8"/>
<circle cx="453.41" cy="223.50" r="3.4" fill="url(#sh)"/>
<circle cx="387.40" cy="231.60" r="3.4" fill="#bce0d0"/>
<circle cx="387.40" cy="231.60" r="3.4" fill="url(#sh)"/>
<circle cx="396.83" cy="231.60" r="3.4" fill="#d8e4b0"/>
<circle cx="396.83" cy="231.60" r="3.4" fill="url(#sh)"/>
<circle cx="406.26" cy="231.60" r="3.4" fill="#703458"/>
<circle cx="406.26" cy="231.60" r="3.4" fill="url(#sh)"/>
<circle cx="415.69" cy="231.60" r="3.4" fill="#a47434"/>
<circle cx="415.69" cy="231.60" r="3.4" fill="url(#sh)"/>
<circle cx="425.12" cy="231.60" r="3.4" fill="#ac8438"/>
<circle cx="425.12" cy="231.60" r="3.4" fill="url(#sh)"/>
<circle cx="434.55" cy="231.60" r="3.4" fill="#683470"/>
<circle cx="434.55" cy="231.60" r="3.4" fill="url(#sh)"/>
<circle cx="443.98" cy="231.60" r="3.4" fill="#60408c"/>
<circle cx="443.98" cy="231.60" r="3.4" fill="url(#sh)"/>
<circle cx="453.41" cy="231.60" r="3.4" fill="#80383c"/>
<circle cx="453.41" cy="231.60" r="3.4" fill="url(#sh)"/>
<circle cx="387.40" cy="239.70" r="3.4" fill="#d0e4bc"/>
<circle cx="387.40" cy="239.70" r="3.4" fill="url(#sh)"/>
<circle cx="396.83" cy="239.70" r="3.4" fill="#d8dca0"/>
<circle cx="396.83" cy="239.70" r="3.4" fill="url(#sh)"/>
<circle cx="406.26" cy="239.70" r="3.4" fill="#904c2c"/>
<circle cx="406.26" cy="239.70" r="3.4" fill="url(#sh)"/>
<circle cx="415.69" cy="239.70" r="3.4" fill="#5490cc"/>
<circle cx="415.69" cy="239.70" r="3.4" fill="url(#sh)"/>
<circle cx="425.12" cy="239.70" r="3.4" fill="#b89c40"/>
<circle cx="425.12" cy="239.70" r="3.4" fill="url(#sh)"/>
<circle cx="434.55" cy="239.70" r="3.4" fill="#d8e0a4"/>
<circle cx="434.55" cy="239.70" r="3.4" fill="url(#sh)"/>
<circle cx="443.98" cy="239.70" r="3.4" fill="#a8d4d8"/>
<circle cx="443.98" cy="239.70" r="3.4" fill="url(#sh)"/>
<circle cx="453.41" cy="239.70" r="3.4" fill="#cce4c4"/>
<circle cx="453.41" cy="239.70" r="3.4" fill="url(#sh)"/>
</svg>
</body></html>
